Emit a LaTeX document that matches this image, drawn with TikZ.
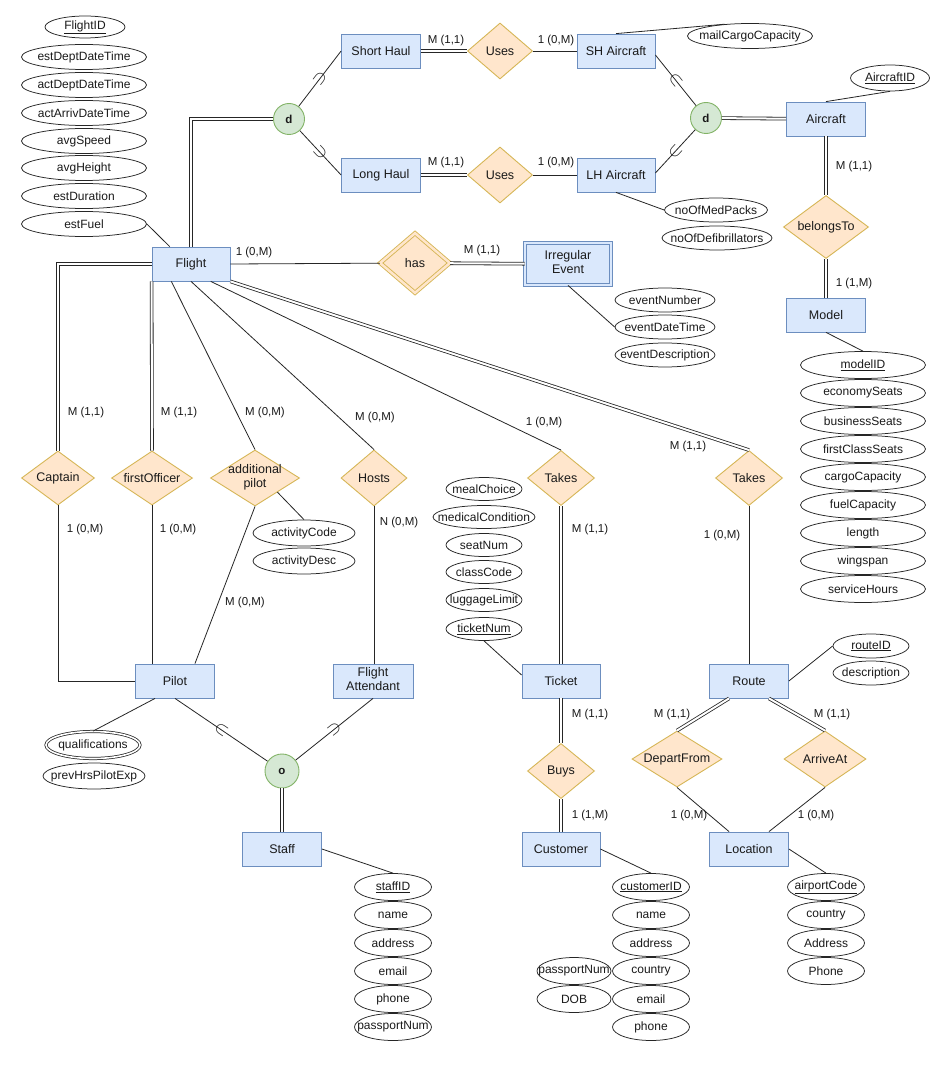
\documentclass[tikz,border=0pt]{standalone}
\usepackage{fontspec}
\setmainfont{Liberation Sans}
\usetikzlibrary{shapes.geometric,calc}
\definecolor{entfill}{HTML}{DAE8FC}
\definecolor{entdraw}{HTML}{6C8EBF}
\definecolor{relfill}{HTML}{FFE6CC}
\definecolor{reldraw}{HTML}{D6B656}
\definecolor{spfill}{HTML}{D5E8D4}
\definecolor{spdraw}{HTML}{82B366}
\definecolor{txt}{HTML}{1A1A1A}
\newcommand{\zt}[1]{\makebox[0pt]{#1}}
\newcommand{\zz}[2]{\makebox[0pt]{\begin{tabular}{@{}c@{}}#1\\#2\end{tabular}}}
\begin{document}
\begin{tikzpicture}[x=1pt,y=-1pt,
  every node/.style={text=txt},
  ent/.style={rectangle, fill=entfill, draw=entdraw, line width=0.8pt, minimum width=79pt, minimum height=34pt, inner sep=0pt, font=\fontsize{12.5}{14}\selectfont},
  rel/.style={diamond, fill=relfill, draw=reldraw, line width=0.9pt, inner sep=0pt, font=\fontsize{12.5}{14}\selectfont},
  attr/.style={ellipse, draw=black!85, fill=white, line width=0.75pt, inner sep=0pt, minimum height=25pt, font=\fontsize{12}{13}\selectfont},
  spc/.style={circle, fill=spfill, draw=spdraw, line width=0.9pt, minimum size=31pt, inner sep=0pt, font=\bfseries\fontsize{11.5}{13}\selectfont},
  lbl/.style={font=\fontsize{11.5}{13}\selectfont, inner sep=0pt},
  ln/.style={draw=black!85, line width=0.8pt},
  dbl/.style={draw=black!85, line width=0.8pt, double=white, double distance=2pt},
  sub/.style={sloped, allow upside down, pos=0.5, inner sep=0pt, font=\fontsize{16}{16}\selectfont}
]
\fill[white] (0,0) rectangle (940,1083);
\useasboundingbox (0,0) rectangle (940,1083);

% ---------- Flight and its attributes ----------
\node[attr, minimum width=80pt, minimum height=22pt] (fid) at (85,27) {\zt{\underline{FlightID}}};
\node[attr, minimum width=125pt] (edd) at (84,57) {\zt{estDeptDateTime}};
\node[attr, minimum width=125pt] (add) at (84,85) {\zt{actDeptDateTime}};
\node[attr, minimum width=125pt] (aad) at (84,113) {\zt{actArrivDateTime}};
\node[attr, minimum width=125pt] (asp) at (84,141) {\zt{avgSpeed}};
\node[attr, minimum width=125pt] (ahg) at (84,168) {\zt{avgHeight}};
\node[attr, minimum width=125pt] (edu) at (84,196) {\zt{estDuration}};
\node[attr, minimum width=125pt] (efu) at (84,224) {\zt{estFuel}};
\node[ent, minimum width=78pt] (flight) at (191,264) {\zt{Flight}};

% ---------- Haul specialisation ----------
\node[spc] (d1) at (289,119) {d};
\node[ent] (sh) at (381,51) {\zt{Short Haul}};
\node[ent] (lh) at (381,175) {\zt{Long Haul}};
\node[rel, minimum width=65pt, minimum height=56pt] (u1) at (500,51) {\zt{Uses}};
\node[rel, minimum width=65pt, minimum height=56pt] (u2) at (500,175) {\zt{Uses}};
\node[ent, minimum width=78pt] (sha) at (616,51) {\zt{SH Aircraft}};
\node[ent, minimum width=78pt] (lha) at (616,175) {\zt{LH Aircraft}};
\node[attr, minimum width=125pt] (mcc) at (750,36) {\zt{mailCargoCapacity}};
\node[attr, minimum width=103pt, minimum height=24pt] (nmp) at (716,210) {\zt{noOfMedPacks}};
\node[attr, minimum width=110pt, minimum height=24pt] (ndf) at (717,238) {\zt{noOfDefibrillators}};
\node[spc] (d2) at (706,118) {d};
\node[ent] (ac) at (826,119) {\zt{Aircraft}};
\node[attr, minimum width=79pt, minimum height=26pt] (aid) at (890,78) {\zt{\underline{AircraftID}}};
\node[rel, minimum width=85pt, minimum height=63pt] (bt) at (826,227) {\zt{belongsTo}};
\node[ent] (model) at (826,315) {\zt{Model}};
\node[attr, minimum width=125pt, minimum height=27pt] (mid) at (863,365) {\zt{\underline{modelID}}};
\node[attr, minimum width=125pt, minimum height=27pt] (ecs) at (863,393) {\zt{economySeats}};
\node[attr, minimum width=125pt, minimum height=27pt] (bus) at (863,421) {\zt{businessSeats}};
\node[attr, minimum width=125pt, minimum height=27pt] (fcs) at (863,449) {\zt{firstClassSeats}};
\node[attr, minimum width=125pt, minimum height=27pt] (cgc) at (863,477) {\zt{cargoCapacity}};
\node[attr, minimum width=125pt, minimum height=27pt] (fuc) at (863,505) {\zt{fuelCapacity}};
\node[attr, minimum width=125pt, minimum height=27pt] (len) at (863,533) {\zt{length}};
\node[attr, minimum width=125pt, minimum height=27pt] (wsp) at (863,561) {\zt{wingspan}};
\node[attr, minimum width=125pt, minimum height=27pt] (svh) at (863,589) {\zt{serviceHours}};

% ---------- Irregular event ----------
\node[rel, double=relfill, double distance=2.5pt, minimum width=70pt, minimum height=60pt] (has) at (415,263) {\zt{has}};
\node[ent, double=entfill, double distance=2.5pt, minimum width=86pt, minimum height=42pt] (ie) at (568,264) {\zz{Irregular}{Event}};
\node[attr, minimum width=100pt, minimum height=24pt] (enu) at (665,300) {\zt{eventNumber}};
\node[attr, minimum width=100pt, minimum height=24pt] (edt) at (665,327) {\zt{eventDateTime}};
\node[attr, minimum width=100pt, minimum height=24pt] (eds) at (665,355) {\zt{eventDescription}};

% ---------- Crew relationships ----------
\node[rel, minimum width=73pt, minimum height=54pt] (cap) at (58,478) {\zt{Captain}};
\node[rel, minimum width=81pt, minimum height=54pt] (fo) at (152,478) {\zt{firstOfficer}};
\node[rel, minimum width=89pt, minimum height=56pt] (ap) at (255,478) {\zz{additional}{pilot}};
\node[rel, minimum width=66pt, minimum height=56pt] (hosts) at (374,478) {\zt{Hosts}};
\node[attr, minimum width=102pt, minimum height=26pt] (acd) at (304,533) {\zt{activityCode}};
\node[attr, minimum width=102pt, minimum height=26pt] (ads) at (304,561) {\zt{activityDesc}};
\node[ent] (pilot) at (175,681) {\zt{Pilot}};
\node[ent, minimum width=80pt] (fa) at (373,681) {\zz{Flight}{Attendant}};
\node[attr, double, double distance=1.6pt, minimum width=94pt, minimum height=27pt] (qual) at (93,745) {\zt{qualifications}};
\node[attr, minimum width=102pt, minimum height=26pt] (phe) at (94,776) {\zt{prevHrsPilotExp}};
\node[spc, minimum size=34pt] (o) at (282,771) {o};
\node[ent] (staff) at (282,849) {\zt{Staff}};
\node[attr, minimum width=77pt, minimum height=27pt] (sid) at (393,887) {\zt{\underline{staffID}}};
\node[attr, minimum width=77pt, minimum height=27pt] (snm) at (393,915) {\zt{name}};
\node[attr, minimum width=77pt, minimum height=27pt] (sad) at (393,943) {\zt{address}};
\node[attr, minimum width=77pt, minimum height=27pt] (sem) at (393,971) {\zt{email}};
\node[attr, minimum width=77pt, minimum height=27pt] (sph) at (393,999) {\zt{phone}};
\node[attr, minimum width=77pt, minimum height=27pt] (spn) at (393,1027) {\zt{passportNum}};

% ---------- Ticket / Customer ----------
\node[rel, minimum width=67pt, minimum height=55pt] (tk1) at (561,478) {\zt{Takes}};
\node[attr, minimum width=76pt, minimum height=23pt] (mch) at (484,489) {\zt{mealChoice}};
\node[attr, minimum width=102pt, minimum height=23pt] (mco) at (484,517) {\zt{medicalCondition}};
\node[attr, minimum width=76pt, minimum height=23pt] (snu) at (484,545) {\zt{seatNum}};
\node[attr, minimum width=76pt, minimum height=23pt] (ccd) at (484,572) {\zt{classCode}};
\node[attr, minimum width=76pt, minimum height=23pt] (lug) at (484,600) {\zt{luggageLimit}};
\node[attr, minimum width=76pt, minimum height=23pt] (tnum) at (484,629) {\zt{\underline{ticketNum}}};
\node[ent, minimum width=78pt] (ticket) at (561,681) {\zt{Ticket}};
\node[rel, minimum width=67pt, minimum height=55pt] (buys) at (561,771) {\zt{Buys}};
\node[ent, minimum width=78pt] (cust) at (561,849) {\zt{Customer}};
\node[attr, minimum width=77pt, minimum height=27pt] (cid) at (651,887) {\zt{\underline{customerID}}};
\node[attr, minimum width=77pt, minimum height=27pt] (cnm) at (651,915) {\zt{name}};
\node[attr, minimum width=77pt, minimum height=27pt] (cad) at (651,943) {\zt{address}};
\node[attr, minimum width=77pt, minimum height=27pt] (cco) at (651,971) {\zt{country}};
\node[attr, minimum width=77pt, minimum height=27pt] (cem) at (651,999) {\zt{email}};
\node[attr, minimum width=77pt, minimum height=27pt] (cph) at (651,1027) {\zt{phone}};
\node[attr, minimum width=74pt, minimum height=27pt] (cpn) at (574,971) {\zt{passportNum}};
\node[attr, minimum width=74pt, minimum height=27pt] (dob) at (574,999) {\zt{DOB}};

% ---------- Route / Location ----------
\node[rel, minimum width=67pt, minimum height=55pt] (tk2) at (749,478) {\zt{Takes}};
\node[ent] (route) at (749,681) {\zt{Route}};
\node[attr, minimum width=76pt, minimum height=24pt] (rid) at (871,646) {\zt{\underline{routeID}}};
\node[attr, minimum width=76pt, minimum height=24pt] (rds) at (871,673) {\zt{description}};
\node[rel, minimum width=90pt, minimum height=56pt] (df) at (677,759) {\zt{DepartFrom}};
\node[rel, minimum width=82pt, minimum height=56pt] (aa) at (825,759) {\zt{ArriveAt}};
\node[ent] (loc) at (749,849) {\zt{Location}};
\node[attr, minimum width=77pt, minimum height=27pt] (apc) at (826,887) {\zt{\underline{airportCode}}};
\node[attr, minimum width=77pt, minimum height=27pt] (lco) at (826,915) {\zt{country}};
\node[attr, minimum width=77pt, minimum height=27pt] (lad) at (826,943) {\zt{Address}};
\node[attr, minimum width=77pt, minimum height=27pt] (lph) at (826,971) {\zt{Phone}};

% ---------- connectors ----------
\draw[ln] (efu.east) -- ($(flight.north west)!0.23!(flight.north east)$);
\draw[dbl] (flight.north) |- (d1);
\draw[ln] (sh.west) -- node[sub]{$\subset$} (d1);
\draw[ln] (lh.west) -- node[sub]{$\subset$} (d1);
\draw[dbl] (sh) -- (u1);
\draw[ln] (u1) -- (sha);
\draw[dbl] (lh) -- (u2);
\draw[ln] (u2) -- (lha);
\draw[ln] (sha.north) -- (mcc.155);
\draw[ln] ([yshift=-4pt]sha.east) -- node[sub]{$\subset$} (d2);
\draw[ln] ([yshift=2pt]lha.east) -- node[sub]{$\subset$} (d2);
\draw[ln] (lha.south) -- (nmp.west);
\draw[dbl] (d2) -- (ac);
\draw[ln] (ac.north) -- (aid.south);
\draw[dbl] (ac) -- (bt);
\draw[dbl] (bt) -- (model);
\draw[ln] (model.south) -- (mid.north);

\draw[ln] (flight.east) -- (has);
\draw[dbl] (has) -- (ie);
\draw[ln] (ie.south) -- (edt.west);

\draw[dbl] (flight.west) -| (cap.north);
\draw[dbl] (flight.south west) -- (fo.north);
\draw[ln] ($(flight.south west)!0.25!(flight.south east)$) -- (ap.north);
\draw[ln] (flight.south) -- (hosts.north);
\draw[ln] ($(flight.south west)!0.75!(flight.south east)$) -- (tk1.north);
\draw[dbl] (flight.south east) -- (tk2.north);

\draw[ln] (cap.south) |- (pilot.west);
\draw[ln] (fo.south) -- (fo.south |- pilot.north);
\draw[ln] (ap.south) -- ($(pilot.north west)!0.75!(pilot.north east)$);
\draw[ln] (ap.south east) -- (acd.north);
\draw[ln] (hosts.south) -- (hosts.south |- fa.north);
\draw[ln] ($(pilot.south west)!0.25!(pilot.south east)$) -- (qual.north);
\draw[ln] (pilot.south) -- node[sub]{$\subset$} (o);
\draw[ln] (fa.south) -- node[sub]{$\subset$} (o);
\draw[dbl] (o) -- (staff);
\draw[ln] (staff.east) -- (sid.north);

\draw[dbl] (tk1) -- (ticket);
\draw[dbl] (ticket) -- (buys);
\draw[dbl] (buys) -- (cust);
\draw[ln] (tnum.south) -- ([yshift=6pt]ticket.west);
\draw[ln] (cust.east) -- (cid.north);

\draw[ln] (tk2) -- (route);
\draw[ln] (route.east) -- (rid.west);
\draw[dbl] ($(route.south west)!0.25!(route.south east)$) -- (df.north);
\draw[dbl] ($(route.south west)!0.75!(route.south east)$) -- (aa.north);
\draw[ln] (df.south) -- ($(loc.north west)!0.25!(loc.north east)$);
\draw[ln] (aa.south) -- ($(loc.north west)!0.75!(loc.north east)$);
\draw[ln] (loc.east) -- (apc.north);

% ---------- cardinality labels ----------
\node[lbl] (l1) at (446,41) {M (1,1)};
\node[lbl] (l2) at (556,41) {1 (0,M)};
\node[lbl] (l3) at (446,163) {M (1,1)};
\node[lbl] (l4) at (556,163) {1 (0,M)};
\node[lbl] (l5) at (854,167) {M (1,1)};
\node[lbl] (l6) at (854,284) {1 (1,M)};
\node[lbl] (l7) at (254,253) {1 (0,M)};
\node[lbl] (l8) at (482,251) {M (1,1)};
\node[lbl] (l9) at (86,413) {M (1,1)};
\node[lbl] (l10) at (179,413) {M (1,1)};
\node[lbl] (l11) at (265,413) {M (0,M)};
\node[lbl] (l12) at (375,418) {M (0,M)};
\node[lbl] (l13) at (85,530) {1 (0,M)};
\node[lbl] (l14) at (178,530) {1 (0,M)};
\node[lbl] (l15) at (399,523) {N (0,M)};
\node[lbl] (l16) at (245,603) {M (0,M)};
\node[lbl] (l17) at (544,423) {1 (0,M)};
\node[lbl] (l18) at (688,447) {M (1,1)};
\node[lbl] (l19) at (590,530) {M (1,1)};
\node[lbl] (l20) at (722,536) {1 (0,M)};
\node[lbl] (l21) at (590,715) {M (1,1)};
\node[lbl] (l22) at (590,816) {1 (1,M)};
\node[lbl] (l23) at (672,715) {M (1,1)};
\node[lbl] (l24) at (832,715) {M (1,1)};
\node[lbl] (l25) at (689,816) {1 (0,M)};
\node[lbl] (l26) at (816,816) {1 (0,M)};
\end{tikzpicture}
\end{document}
